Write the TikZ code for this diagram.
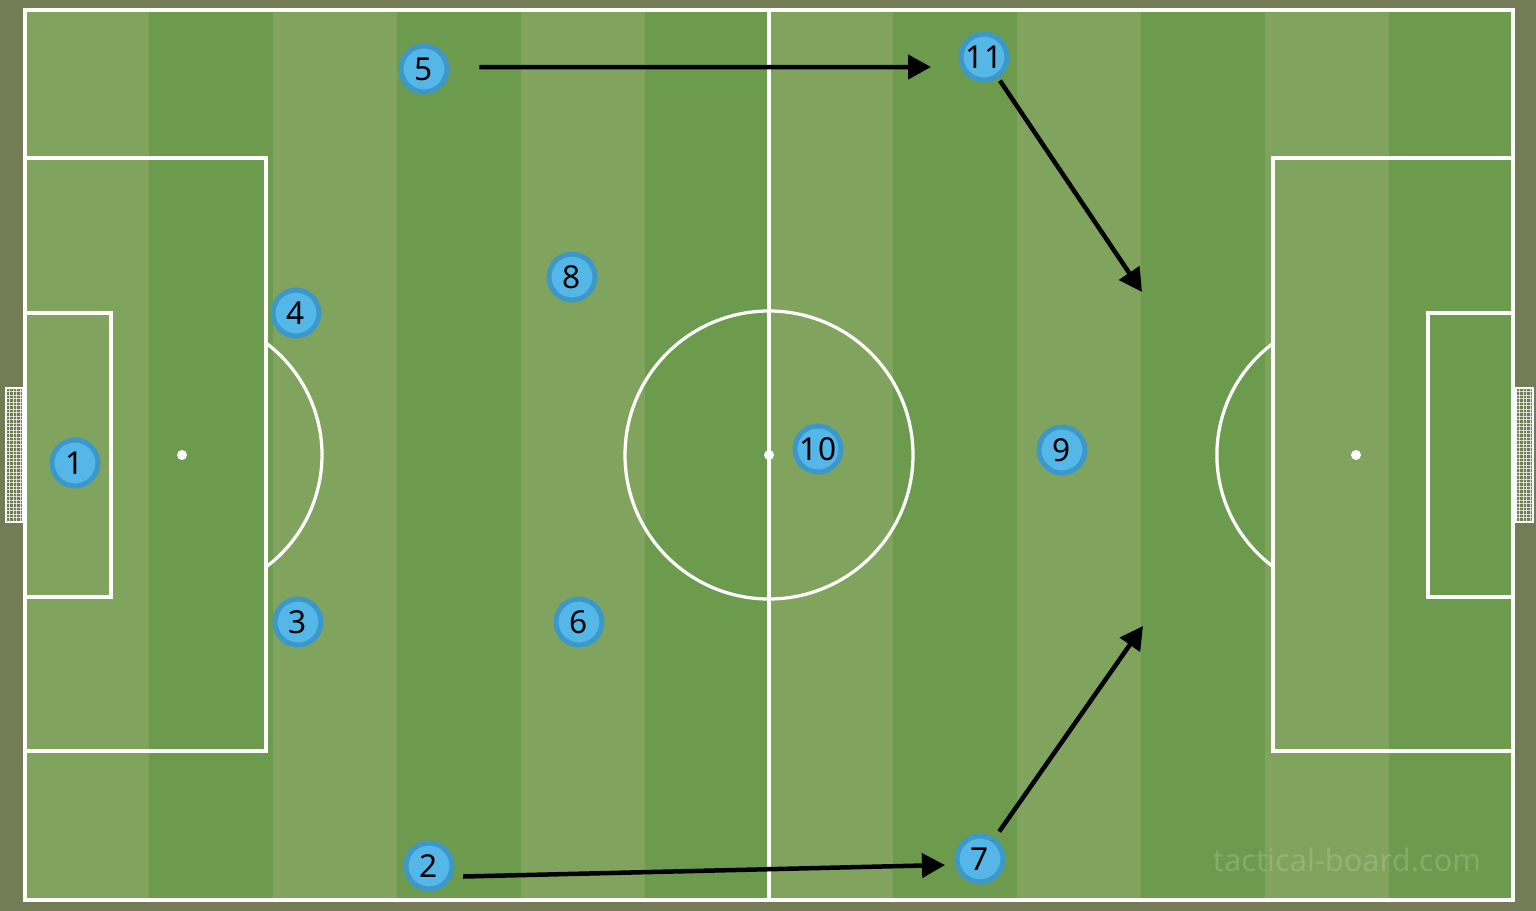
\documentclass[tikz,border=0pt]{standalone}
\usepackage{fontspec}
\setmainfont{Noto Sans}
\usetikzlibrary{arrows.meta}
\definecolor{pitchlight}{HTML}{80A45D}
\definecolor{pitchdark}{HTML}{6C9B4E}
\definecolor{surround}{HTML}{737C54}
\definecolor{playerfill}{HTML}{55B6E8}
\definecolor{playerring}{HTML}{3D98CA}

\begin{document}
\begin{tikzpicture}[x=0.2mm, y=-0.2mm,
	every node/.style={circle, draw=playerring, fill=playerfill, line width=1mm, minimum size=9.2mm, inner sep=0pt, font=\fontsize{18}{20}\selectfont},
	watermark/.style={draw=none, fill=none, rectangle, text=white, text opacity=0.16, font=\fontsize{17.5}{20}\selectfont},
	pitchline/.style={draw=white, line width=0.65mm},
	netline/.style={draw=white, line width=0.12mm, opacity=0.7},
	run/.style={draw=black, line width=0.9mm, -{Triangle[length=4.6mm, width=4.8mm]}}]
			\useasboundingbox (0,0) rectangle (1536,911);
			\fill[surround] (0,0) rectangle (1536,911);
			
			\foreach \x in {25,273,...,1265} \fill[pitchlight] (\x,10) rectangle ++(124,890);
			\foreach \x in {149,397,...,1389} \fill[pitchdark] (\x,10) rectangle ++(124,890);
			
			\foreach \x in {6,1516}{
				\foreach \y in {391.5,395,...,520} \draw[netline] (\x,\y) -- ++(17,0);
				\foreach \d in {3.5,7,...,15} \draw[netline] (\x+\d,388) -- ++(0,134);
				\draw[white, line width=0.45mm] (\x,388) rectangle ++(17,134);
			}
			
			\draw[pitchline, line width=0.9mm] (25,10) rectangle (1513,900);
			\draw[pitchline] (769,10) -- (769,900);
			\draw[pitchline] (769,455) circle[radius=144];
			\fill[white] (769,455) circle[radius=5];
			
			\draw[pitchline] (25,158) rectangle (266,751);
			\draw[pitchline] (25,313) rectangle (111,597);
			\draw[pitchline] (266,343) arc[start angle=-53.13, end angle=53.13, radius=140];
			\fill[white] (182,455) circle[radius=5];
			
			\draw[pitchline] (1273,158) rectangle (1513,751);
			\draw[pitchline] (1428,313) rectangle (1513,597);
			\draw[pitchline] (1273,343.4) arc[start angle=233.4, end angle=126.6, radius=139];
			\fill[white] (1356,455) circle[radius=5];
			
			\node[watermark] (brand) at (1347,860){tactical-board.com};
			
			\node (p1) at (75,463){1};
			\node (p2) at (429,866){2};
			\node (p3) at (298,622){3};
			\node (p4) at (296,313){4};
			\node (p5) at (424,69){5};
			\node (p6) at (579,622){6};
			\node (p7) at (980,859){7};
			\node (p8) at (572,277){8};
			\node (p9) at (1062,450){9};
			\node (p10) at (818,449){10};
			\node (p11) at (984,57){11};
			
			\coordinate (t11) at (931,67);
			\coordinate (t7) at (945,865);
			\coordinate (up) at (1142,292);
			\coordinate (down) at (1143,626);
			
			\draw[run, shorten <=6mm] (p5.4) -- (t11);
			\draw[run, shorten <=0.6mm] (p11) -- (up);
			\draw[run, shorten <=2.2mm] (p2.-25) -- (t7);
			\draw[run, shorten <=1.6mm] (p7) -- (down);
\end{tikzpicture}
\end{document}
